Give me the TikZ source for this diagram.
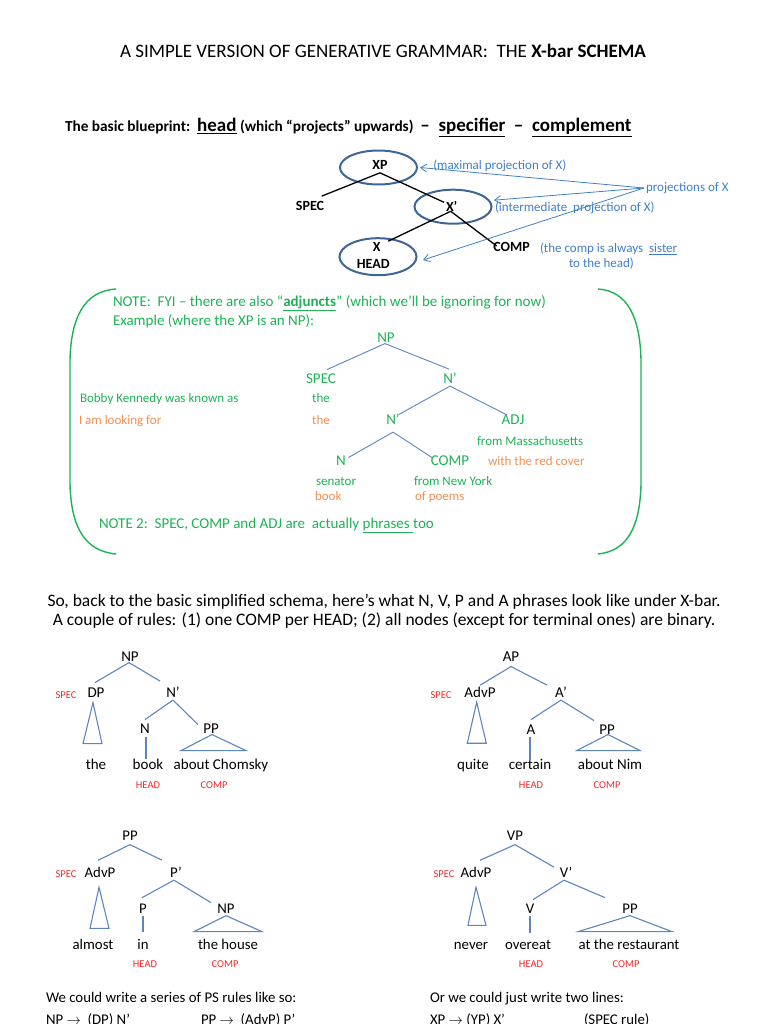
\documentclass[tikz,border=0pt]{standalone}
\usepackage{fontspec}
\setmainfont{Carlito}
\usetikzlibrary{arrows.meta,shapes.geometric}
\definecolor{tblue}{HTML}{5B86BF}
\definecolor{eblue}{HTML}{3E6595}
\definecolor{txtblue}{HTML}{3F7FC6}
\definecolor{ngreen}{HTML}{1DB254}
\definecolor{norange}{HTML}{F28E50}
\definecolor{nred}{HTML}{F0282A}
\begin{document}
\begin{tikzpicture}[x=1pt,y=-1pt,
  every node/.style={inner sep=0pt, outer sep=0pt},
  lab/.style={anchor=mid, font=\fontsize{15}{17}\selectfont},
  lab2/.style={anchor=mid, font=\fontsize{14.8}{17}\selectfont},
  redlab/.style={anchor=mid, text=nred, font=\fontsize{10.5}{12}\selectfont},
  tline/.style={draw=tblue, line width=1.1pt},
  blab/.style={anchor=mid, font=\bfseries\fontsize{14}{16}\selectfont},
  bluetext/.style={anchor=mid west, text=txtblue, font=\fontsize{13}{15}\selectfont},
  ell/.style={ellipse, draw=eblue, line width=2pt, minimum width=77pt, minimum height=34pt},
  barrow/.style={draw=txtblue, line width=0.8pt, -{Straight Barb[length=6pt,width=8pt]}},
  gtext/.style={text=ngreen, font=\fontsize{15}{18}\selectfont},
  gsmall/.style={text=ngreen, font=\fontsize{13}{15}\selectfont},
  osmall/.style={text=norange, font=\fontsize{13}{15}\selectfont},
  glab/.style={anchor=mid, text=ngreen, font=\fontsize{15}{17}\selectfont},
  gline/.style={draw=tblue, line width=0.9pt},
  bottomtext/.style={anchor=mid west, font=\fontsize{14.8}{17}\selectfont}
]
\useasboundingbox (0,0) rectangle (768,1024);
\clip (0,0) rectangle (768,1024);

% ---------------- title ----------------
\node[anchor=mid, font=\fontsize{19}{22}\selectfont] (title) at (383,55)
  {A SIMPLE VERSION OF GENERATIVE GRAMMAR:\ \ THE \textbf{X-bar SCHEMA}};

\node[anchor=mid west, font=\bfseries\fontsize{15.3}{18}\selectfont] (blue) at (65,129)
  {The basic blueprint:\ \ {\fontsize{19}{22}\selectfont\underline{head}} (which “projects” upwards)\ \ {\fontsize{19}{22}\selectfont –\ \ \underline{specifier}\ \ –\ \ \underline{complement}}};

% ---------------- top tree ----------------
\node[ell] (xpe) at (378.5,167.5) {};
\node[ell] (xbe) at (453,206.7) {};
\node[ell, minimum height=37pt] (xe) at (378,256.7) {};

\node[blab] (xp) at (380,167) {XP};
\node[blab] (spec) at (310,208) {SPEC};
\node[blab] (xb) at (451.7,209) {X’};
\node[blab] (x) at (376.7,249.3) {X};
\node[blab] (head) at (373.3,266) {HEAD};
\node[blab, anchor=mid west] (comp) at (493.3,249.3) {COMP};

\draw[line width=1.3pt] ([shift={(0,8)}]xp.center) -- ([shift={(11.7,-9.7)}]spec.center);
\draw[line width=1.3pt] ([shift={(0,8)}]xp.center) -- ([shift={(-7.7,-4)}]xb.center);
\draw[line width=1.3pt] ([shift={(-1,5)}]xb.center) -- ([shift={(11.6,-6)}]x.center);
\draw[line width=1.3pt] ([shift={(-1,5)}]xb.center) -- ([shift={(3.4,-3.3)}]comp.mid west);

\node[bluetext] (maxp) at (433.3,167.3) {(maximal projection of X)};
\node[bluetext] (intp) at (495,209) {(intermediate\ \ projection of X)};
\node[bluetext] (proj) at (646,189) {projections of X};
\node[bluetext] (sis) at (540,250) {(the comp is always\ \ \underline{sister}};
\node[bluetext] (toh) at (569,265) {to the head)};

\draw[barrow] ([xshift=-2pt]proj.west) -- ([xshift=3pt]xpe.east);
\draw[barrow] ([xshift=-2pt]proj.west) -- ([shift={(2.5,-6.5)}]xbe.east);
\draw[barrow] ([xshift=-2pt]proj.west) -- ([shift={(6.5,3.3)}]xe.east);

% ---------------- green note ----------------
\draw[ngreen, line width=1.4pt] (116,289) .. controls (84,291) and (71,318) .. (70,360)
  -- (70,484) .. controls (71,526) and (84,551) .. (116,554);
\draw[ngreen, line width=1.4pt] (598,289) .. controls (628,291) and (640,318) .. (641,360)
  -- (641,484) .. controls (640,526) and (628,551) .. (598,554);

\node[gtext, anchor=mid west] (note1) at (113,304)
  {NOTE:\ \ FYI – there are also “\textbf{\underline{adjuncts}}” (which we’ll be ignoring for now)};
\node[gtext, anchor=mid west] (note1b) at (113,323) {Example (where the XP is an NP):};

\node[glab] (np5) at (386,340) {NP};
\node[glab] (spec5) at (321,381) {SPEC};
\node[glab] (nb5) at (450,381) {N’};
\node[glab] (nb5b) at (393,422.3) {N’};
\node[glab] (adj5) at (513,422.3) {ADJ};
\node[glab] (n5) at (341,462.7) {N};
\node[glab] (comp5) at (450,462.7) {COMP};

\draw[gline] ([shift={(-1,6)}]np5.center) -- ([shift={(6,-9)}]spec5.center);
\draw[gline] ([shift={(-1,6)}]np5.center) -- ([shift={(-1,-9)}]nb5.center);
\draw[gline] ([shift={(0,8)}]nb5.center) -- ([shift={(6,-5)}]nb5b.center);
\draw[gline] ([shift={(0,8)}]nb5.center) -- ([shift={(-6,-5)}]adj5.center);
\draw[gline] ([shift={(0,12.7)}]nb5b.center) -- ([shift={(7.4,-2.7)}]n5.center);
\draw[gline] ([shift={(0,12.7)}]nb5b.center) -- ([shift={(-18,-2.7)}]comp5.center);

\node[gsmall, anchor=mid west] (bobby) at (80,400) {Bobby Kennedy was known as};
\node[osmall, anchor=mid west] (look) at (79,422.3) {I am looking for};
\node[gsmall, anchor=mid] (the5g) at (321,400) {the};
\node[osmall, anchor=mid] (the5o) at (321,422.3) {the};
\node[gsmall, anchor=mid west] (mass) at (477,442.7) {from Massachusetts};
\node[osmall, anchor=mid west] (redc) at (488,462.7) {with the red cover};
\node[gsmall, anchor=mid west] (sen) at (316,483) {senator};
\node[osmall, anchor=mid west] (book5) at (315,498) {book};
\node[gsmall, anchor=mid west] (fny) at (414,482.7) {from New York};
\node[osmall, anchor=mid west] (poems) at (415,498) {of poems};

\node[gtext, anchor=mid west] (note2) at (99,526)
  {NOTE 2:\ \ SPEC, COMP and ADJ are\ \ actually \underline{phrases\ }too};

% ---------------- middle text ----------------
\node[anchor=mid, font=\fontsize{17.5}{20}\selectfont] (mid1) at (384,604)
  {So, back to the basic simplified schema, here’s what N, V, P and A phrases look like under X-bar.};
\node[anchor=mid, font=\fontsize{17.5}{20}\selectfont] (mid2) at (384,623)
  {A couple of rules: (1) one COMP per HEAD; (2) all nodes (except for terminal ones) are binary.};

% ---------------- tree 1: NP ----------------
\node[lab] (np1) at (130,659) {NP};
\node[redlab] (spec1) at (66,696) {SPEC};
\node[lab] (dp1) at (96,695) {DP};
\node[lab] (nb1) at (173,695) {N’};
\node[lab] (n1) at (145,731) {N};
\node[lab] (pp1) at (211,731) {PP};
\node[lab] (the1) at (96,767) {the};
\node[lab] (book1) at (148,767) {book};
\node[lab] (chom1) at (221,767) {about Chomsky};
\node[redlab] (head1) at (148,786) {HEAD};
\node[redlab] (comp1) at (214,786) {COMP};
\draw[tline] ([shift={(-1,6)}]np1.center) -- ([shift={(-1,-10)}]dp1.center);
\draw[tline] ([shift={(-1,6)}]np1.center) -- ([shift={(-13,-11)}]nb1.center);
\draw[tline] ([shift={(0,8)}]nb1.center) -- ([shift={(0,-9)}]n1.center);
\draw[tline] ([shift={(0,8)}]nb1.center) -- ([shift={(-13,-4)}]pp1.center);
\draw[tline] ([shift={(1,8)}]n1.center) -- ([shift={(-2,-5)}]book1.center);
\draw[tline] ([shift={(-3,10)}]dp1.center) -- ([shift={(-13,51)}]dp1.center) -- ([shift={(6,51)}]dp1.center) -- cycle;
\draw[tline] ([shift={(1,6)}]pp1.center) -- ([shift={(-30,22)}]pp1.center) -- ([shift={(35,22)}]pp1.center) -- cycle;

% ---------------- tree 2: AP ----------------
\node[lab] (ap2) at (511,659) {AP};
\node[redlab] (spec2) at (441,696) {SPEC};
\node[lab] (advp2) at (480,695) {AdvP};
\node[lab] (ab2) at (561,695) {A’};
\node[lab] (a2) at (531,732) {A};
\node[lab] (pp2) at (607,732) {PP};
\node[lab] (quite2) at (473,767) {quite};
\node[lab] (cert2) at (530,767) {certain};
\node[lab] (nim2) at (610,767) {about Nim};
\node[redlab] (head2) at (531,786) {HEAD};
\node[redlab] (comp2) at (607,786) {COMP};
\draw[tline] ([shift={(0,10)}]ap2.center) -- ([shift={(0,-7)}]advp2.center);
\draw[tline] ([shift={(0,10)}]ap2.center) -- ([shift={(-14,-7)}]ab2.center);
\draw[tline] ([shift={(0,8)}]ab2.center) -- ([shift={(0,-10)}]a2.center);
\draw[tline] ([shift={(0,8)}]ab2.center) -- ([shift={(-13,-9)}]pp2.center);
\draw[tline] ([shift={(-1,7)}]a2.center) -- ([shift={(0,-4)}]cert2.center);
\draw[tline] ([shift={(-3.3,10)}]advp2.center) -- ([shift={(-12.7,51)}]advp2.center) -- ([shift={(6.3,51)}]advp2.center) -- cycle;
\draw[tline] ([shift={(1,5)}]pp2.center) -- ([shift={(-30.3,21)}]pp2.center) -- ([shift={(33,21)}]pp2.center) -- cycle;

% ---------------- tree 3: PP ----------------
\node[lab2] (pp3) at (130,838) {PP};
\node[redlab] (spec3) at (66,875) {SPEC};
\node[lab2] (advp3) at (100,875) {AdvP};
\node[lab2] (pb3) at (176,875) {P’};
\node[lab2] (p3) at (143,911) {P};
\node[lab2] (np3) at (226,911) {NP};
\node[lab2] (alm3) at (93,947) {almost};
\node[lab2] (in3) at (143,947) {in};
\node[lab2] (house3) at (228,947) {the house};
\node[redlab] (head3) at (145,965) {HEAD};
\node[redlab] (comp3) at (225,965) {COMP};
\draw[tline] ([shift={(0,9)}]pp3.center) -- ([shift={(-2,-12)}]advp3.center);
\draw[tline] ([shift={(0,9)}]pp3.center) -- ([shift={(-14,-12)}]pb3.center);
\draw[tline] ([shift={(-2,8)}]pb3.center) -- ([shift={(-1,-11)}]p3.center);
\draw[tline] ([shift={(-2,8)}]pb3.center) -- ([shift={(-15,-6)}]np3.center);
\draw[tline] ([shift={(0,7)}]p3.center) -- ([shift={(0,-12)}]in3.center);
\draw[tline] ([shift={(-1,15)}]advp3.center) -- ([shift={(-10,56)}]advp3.center) -- ([shift={(9,56)}]advp3.center) -- cycle;
\draw[tline] ([shift={(0,7)}]np3.center) -- ([shift={(-32,23)}]np3.center) -- ([shift={(36,23)}]np3.center) -- cycle;

% ---------------- tree 4: VP ----------------
\node[lab2] (vp4) at (515,838) {VP};
\node[redlab] (spec4) at (444,875) {SPEC};
\node[lab2] (advp4) at (476,875) {AdvP};
\node[lab2] (vb4) at (566,875) {V’};
\node[lab2] (v4) at (530,911) {V};
\node[lab2] (pp4) at (630,911) {PP};
\node[lab2] (nev4) at (471,947) {never};
\node[lab2] (over4) at (528,947) {overeat};
\node[lab2] (rest4) at (629,947) {at the restaurant};
\node[redlab] (head4) at (531,965) {HEAD};
\node[redlab] (comp4) at (626,965) {COMP};
\draw[tline] ([shift={(0,9)}]vp4.center) -- ([shift={(4,-12)}]advp4.center);
\draw[tline] ([shift={(0,9)}]vp4.center) -- ([shift={(-12,-5)}]vb4.center);
\draw[tline] ([shift={(-2,8)}]vb4.center) -- ([shift={(3,-9)}]v4.center);
\draw[tline] ([shift={(-2,8)}]vb4.center) -- ([shift={(-25,-11)}]pp4.center);
\draw[tline] ([shift={(0,7)}]v4.center) -- ([shift={(2,-12)}]over4.center);
\draw[tline] ([shift={(0,15)}]advp4.center) -- ([shift={(-8,53)}]advp4.center) -- ([shift={(10,53)}]advp4.center) -- cycle;
\draw[tline] ([shift={(0,7)}]pp4.center) -- ([shift={(-52,23)}]pp4.center) -- ([shift={(42,23)}]pp4.center) -- cycle;

% ---------------- bottom text ----------------
\node[bottomtext] (ps1) at (46,1000) {We could write a series of PS rules like so:};
\node[bottomtext] (ps2) at (430,1000) {Or we could just write two lines:};
\node[bottomtext] (r1) at (46,1022) {NP $\rightarrow$\ \ (DP) N’};
\node[bottomtext] (r2) at (201,1022) {PP $\rightarrow$\ \ (AdvP) P’};
\node[bottomtext] (r3) at (430,1022) {XP $\rightarrow$ (YP) X’};
\node[bottomtext] (r4) at (584,1022) {(SPEC rule)};
\end{tikzpicture}
\end{document}
